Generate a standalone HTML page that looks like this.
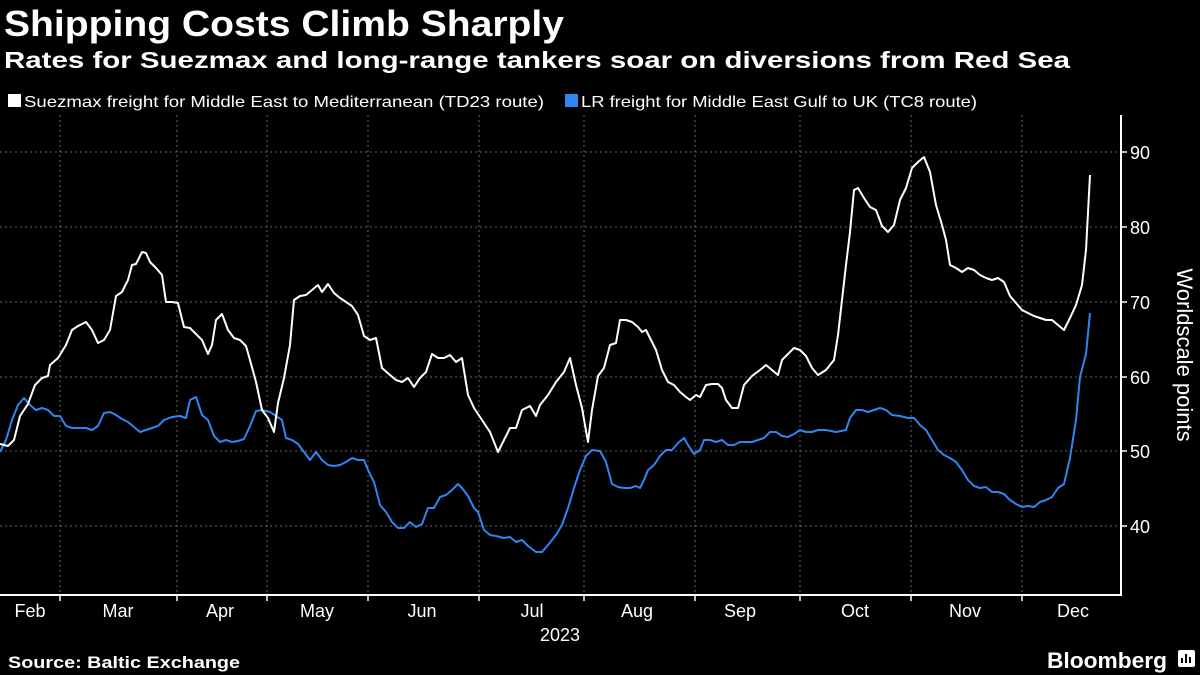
<!DOCTYPE html>
<html><head><meta charset="utf-8"><style>
html,body{margin:0;padding:0;background:#000;}
svg{display:block;font-family:"Liberation Sans",sans-serif;}
</style></head><body>
<svg width="1200" height="675" viewBox="0 0 1200 675" xmlns="http://www.w3.org/2000/svg">
<rect width="1200" height="675" fill="#000"/>
<text x="4" y="36" fill="#fff" font-size="36" font-weight="bold" textLength="560" lengthAdjust="spacingAndGlyphs">Shipping Costs Climb Sharply</text>
<text x="4" y="68" fill="#fff" font-size="23" font-weight="bold" textLength="1066" lengthAdjust="spacingAndGlyphs">Rates for Suezmax and long-range tankers soar on diversions from Red Sea</text>
<rect x="8" y="94" width="13" height="13" fill="#fff"/>
<text x="24" y="107" fill="#fff" font-size="16" textLength="520" lengthAdjust="spacingAndGlyphs">Suezmax freight for Middle East to Mediterranean (TD23 route)</text>
<rect x="565" y="94" width="13" height="13" fill="#2f86f0"/>
<text x="581" y="107" fill="#fff" font-size="16" textLength="396" lengthAdjust="spacingAndGlyphs">LR freight for Middle East Gulf to UK (TC8 route)</text>
<g stroke="#666" stroke-width="1" stroke-dasharray="2,3">
<line x1="60" y1="115" x2="60" y2="595"/><line x1="177" y1="115" x2="177" y2="595"/><line x1="267" y1="115" x2="267" y2="595"/><line x1="368" y1="115" x2="368" y2="595"/><line x1="479" y1="115" x2="479" y2="595"/><line x1="584" y1="115" x2="584" y2="595"/><line x1="695" y1="115" x2="695" y2="595"/><line x1="800" y1="115" x2="800" y2="595"/><line x1="911" y1="115" x2="911" y2="595"/><line x1="1022" y1="115" x2="1022" y2="595"/>
<line x1="0" y1="152" x2="1121" y2="152"/><line x1="0" y1="227" x2="1121" y2="227"/><line x1="0" y1="302" x2="1121" y2="302"/><line x1="0" y1="377" x2="1121" y2="377"/><line x1="0" y1="451" x2="1121" y2="451"/><line x1="0" y1="526" x2="1121" y2="526"/>
</g>
<g stroke="#fff" stroke-width="2" fill="none">
<polyline points="0,595 1121,595 1121,115"/>
</g>
<g stroke="#fff" stroke-width="1.5">
<line x1="60" y1="595" x2="60" y2="601"/><line x1="177" y1="595" x2="177" y2="601"/><line x1="267" y1="595" x2="267" y2="601"/><line x1="368" y1="595" x2="368" y2="601"/><line x1="479" y1="595" x2="479" y2="601"/><line x1="584" y1="595" x2="584" y2="601"/><line x1="695" y1="595" x2="695" y2="601"/><line x1="800" y1="595" x2="800" y2="601"/><line x1="911" y1="595" x2="911" y2="601"/><line x1="1022" y1="595" x2="1022" y2="601"/>
<line x1="1121" y1="152" x2="1127" y2="152"/><line x1="1121" y1="227" x2="1127" y2="227"/><line x1="1121" y1="302" x2="1127" y2="302"/><line x1="1121" y1="377" x2="1127" y2="377"/><line x1="1121" y1="451" x2="1127" y2="451"/><line x1="1121" y1="526" x2="1127" y2="526"/>
</g>
<g fill="#fff" font-size="18">
<text x="1130" y="159">90</text><text x="1130" y="234">80</text><text x="1130" y="309">70</text><text x="1130" y="384">60</text><text x="1130" y="458">50</text><text x="1130" y="533">40</text>
</g>
<g fill="#fff" font-size="18" text-anchor="middle">
<text x="30" y="617">Feb</text><text x="118" y="617">Mar</text><text x="220" y="617">Apr</text><text x="317" y="617">May</text><text x="422" y="617">Jun</text><text x="532" y="617">Jul</text><text x="637" y="617">Aug</text><text x="740" y="617">Sep</text><text x="855" y="617">Oct</text><text x="965" y="617">Nov</text><text x="1073" y="617">Dec</text>
<text x="560" y="641">2023</text>
</g>
<text transform="translate(1177,355) rotate(90)" fill="#fff" font-size="22" text-anchor="middle">Worldscale points</text>
<polyline fill="none" stroke="#2f86f0" stroke-width="2" stroke-linejoin="round" points="0,452 6,440 12,420 18,405 24,398 30,405 36,410 42,408 48,410 54,416 60,416 66,426 72,428 78,428 86,428 92,430 98,426 104,413 110,412 116,415 122,419 128,422 134,427 140,432 146,430 152,428 158,426 164,420 172,417 180,416 186,418 190,400 196,397 202,415 208,420 214,436 220,442 226,440 232,442 238,441 244,439 250,426 256,411 262,410 270,412 276,416 282,420 286,438 292,440 298,444 304,452 310,460 316,452 322,460 328,465 334,466 340,465 346,462 352,458 358,460 364,460 368,470 374,482 380,505 386,512 392,522 398,528 404,528 410,522 416,527 422,524 428,508 434,508 440,497 446,495 452,490 458,484 462,488 468,496 474,508 478,512 484,530 490,535 496,536 504,538 510,537 516,542 522,540 528,546 536,552 542,552 548,545 556,535 562,525 568,508 574,488 580,470 586,456 592,450 600,451 606,462 612,484 618,487 624,488 630,488 636,486 640,488 644,480 648,470 654,465 660,456 666,450 672,450 678,443 684,438 688,445 694,454 700,450 704,440 710,440 716,442 722,440 728,445 734,445 740,442 746,442 752,442 758,440 764,438 770,432 776,432 782,436 788,437 794,434 800,430 806,432 812,432 818,430 826,430 836,432 846,430 850,418 856,410 862,410 868,412 874,410 880,408 886,410 892,415 900,416 908,418 914,418 920,425 926,430 932,440 938,450 944,455 950,458 956,462 962,470 968,480 974,486 980,488 986,487 992,492 998,492 1004,494 1010,500 1016,504 1022,507 1028,506 1034,507 1040,502 1046,500 1052,497 1058,488 1064,484 1070,458 1076,420 1080,377 1086,354 1090,313"/>
<polyline fill="none" stroke="#fff" stroke-width="2" stroke-linejoin="round" points="0,444 8,446 14,440 20,416 28,404 35,385 42,378 48,376 50,365 58,358 66,345 72,330 78,326 86,322 92,330 98,343 104,340 110,330 116,296 122,292 128,280 132,265 136,264 142,252 146,253 150,262 156,268 162,275 166,302 172,302 178,303 184,327 190,328 196,334 202,340 208,354 212,345 216,320 222,314 228,330 234,338 240,340 246,346 250,360 256,382 262,410 268,418 274,432 278,403 284,378 290,345 294,300 300,296 306,295 312,290 318,285 322,292 328,284 334,293 340,298 346,302 352,306 358,315 364,336 370,340 376,338 382,368 390,375 396,380 402,382 408,378 414,387 420,378 426,372 432,354 438,358 444,358 450,355 456,362 462,358 468,395 474,408 482,420 490,432 498,452 504,440 510,428 516,428 522,410 530,406 536,416 540,405 548,395 556,382 564,372 570,358 576,385 582,408 588,442 592,410 598,376 604,368 610,345 616,343 620,320 626,320 632,322 638,327 642,332 646,330 652,342 656,350 662,370 668,382 674,385 680,392 686,397 690,400 696,395 700,397 706,385 712,384 718,384 722,388 726,400 732,408 738,408 744,385 752,376 760,370 766,365 772,370 778,375 782,360 788,354 794,348 800,350 806,356 812,368 818,375 826,370 834,360 838,335 842,300 846,265 850,232 854,190 858,188 864,198 870,207 876,210 882,226 888,232 894,225 900,200 906,188 912,168 918,162 924,157 930,172 936,205 942,225 946,240 950,265 956,268 962,272 968,268 974,270 980,275 986,278 992,280 998,278 1004,282 1010,296 1016,303 1022,310 1028,313 1034,316 1040,318 1046,320 1052,320 1058,325 1064,330 1070,318 1076,305 1082,285 1086,250 1090,175"/>
<text x="8" y="668" fill="#fff" font-size="17" font-weight="bold" textLength="232" lengthAdjust="spacingAndGlyphs">Source: Baltic Exchange</text>
<text x="1047" y="668" fill="#fff" font-size="22" font-weight="bold" textLength="120" lengthAdjust="spacingAndGlyphs">Bloomberg</text>
<rect x="1178" y="650" width="17" height="17" rx="2" fill="#fff"/>
<g stroke="#000" stroke-width="2"><line x1="1182" y1="663" x2="1182" y2="658"/><line x1="1186" y1="663" x2="1186" y2="654"/><line x1="1190" y1="663" x2="1190" y2="657"/></g>
</svg>
</body></html>
